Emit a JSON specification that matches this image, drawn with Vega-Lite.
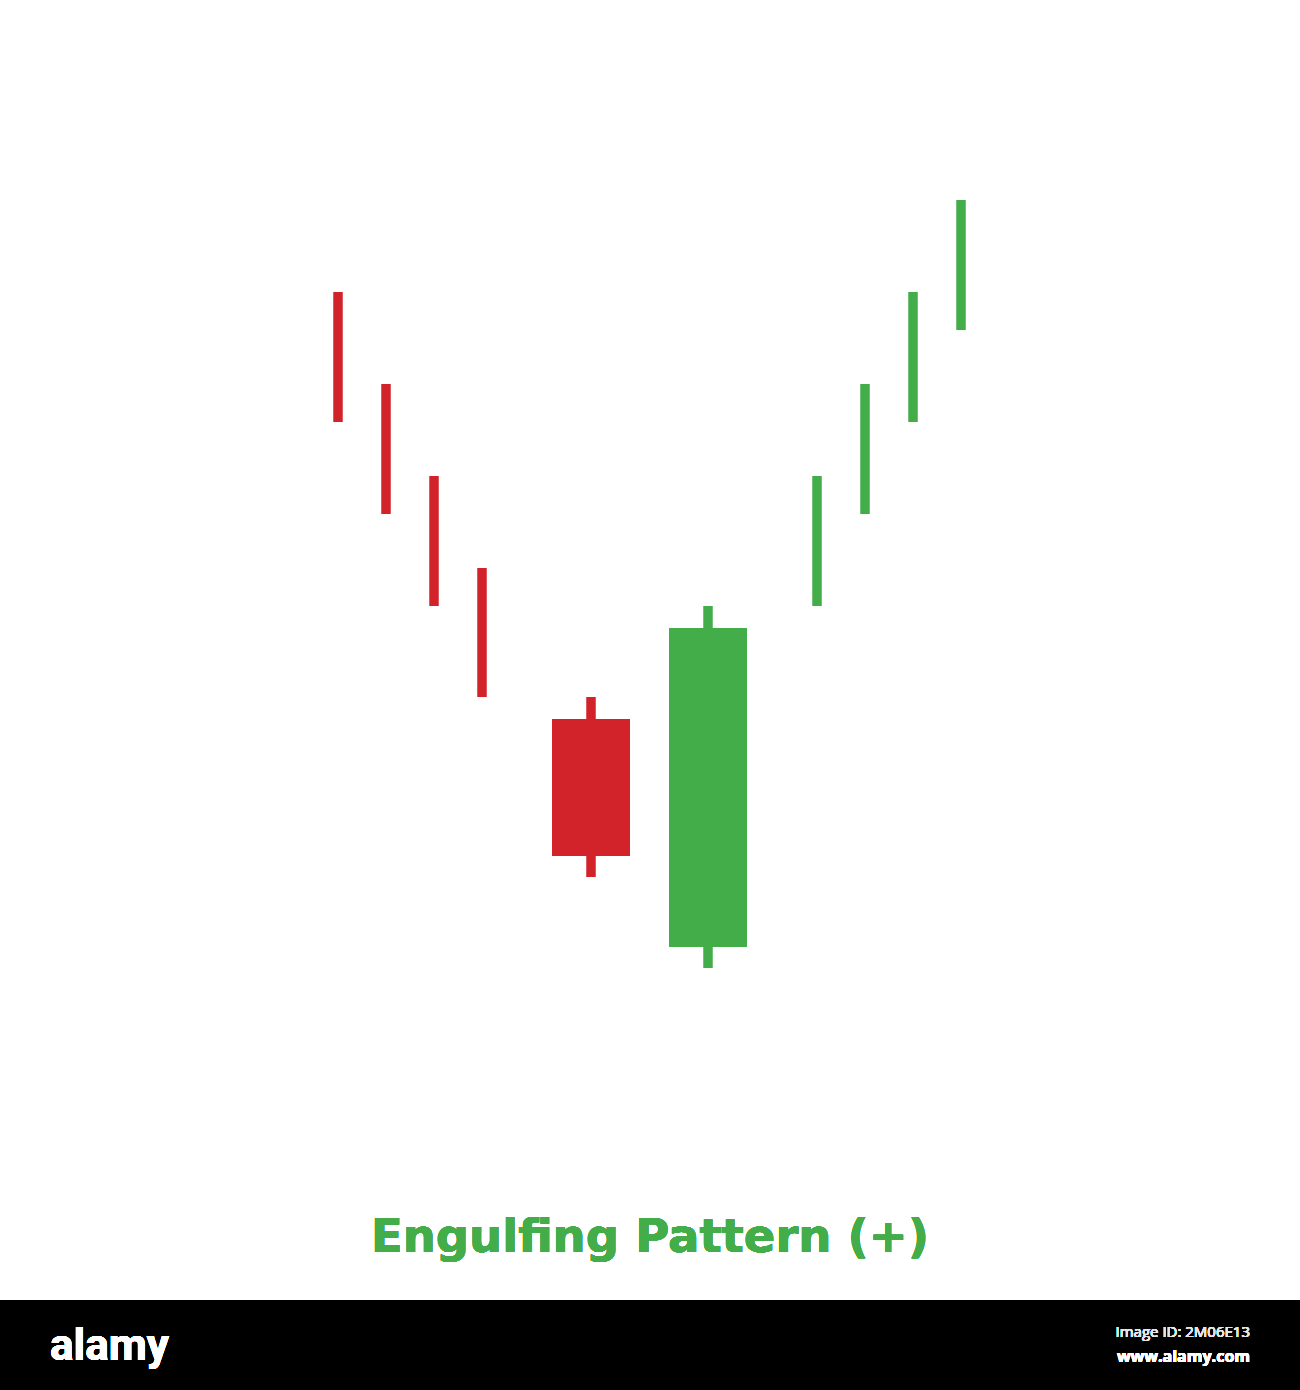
{
  "$schema": "https://vega.github.io/schema/vega-lite/v6.json",
  "width": 1300,
  "height": 1390,
  "autosize": {"type": "fit", "contains": "padding"},
  "padding": 0,
  "background": "#ffffff",
  "config": {"view": {"stroke": null}},
  "data": {
    "values": [
      {"pos": 338, "open": 1098, "high": 1098, "low": 968, "close": 968},
      {"pos": 386, "open": 1006, "high": 1006, "low": 876, "close": 876},
      {"pos": 434, "open": 914, "high": 914, "low": 784, "close": 784},
      {"pos": 482, "open": 822, "high": 822, "low": 693, "close": 693},
      {"pos": 591, "open": 671, "high": 693, "low": 513, "close": 534},
      {"pos": 708, "open": 443, "high": 784, "low": 422, "close": 762},
      {"pos": 817, "open": 784, "high": 914, "low": 784, "close": 914},
      {"pos": 865, "open": 876, "high": 1006, "low": 876, "close": 1006},
      {"pos": 913, "open": 968, "high": 1098, "low": 968, "close": 1098},
      {"pos": 961, "open": 1060, "high": 1190, "low": 1060, "close": 1190}
    ]
  },
  "layer": [
    {
      "mark": {"type": "rule", "strokeWidth": 9.5},
      "encoding": {
        "x": {"field": "pos", "type": "quantitative", "scale": {"domain": [0, 1300], "nice": false, "zero": false, "padding": 0}, "axis": null},
        "y": {"field": "low", "type": "quantitative", "scale": {"domain": [0, 1390], "nice": false, "zero": false, "padding": 0}, "axis": null},
        "y2": {"field": "high"},
        "color": {"condition": {"test": "datum.close < datum.open", "value": "#D2232A"}, "value": "#43AD4A"}
      }
    },
    {
      "transform": [{"filter": "abs(datum.close - datum.open) < datum.high - datum.low"}],
      "mark": {"type": "bar", "width": 78},
      "encoding": {
        "x": {"field": "pos", "type": "quantitative"},
        "y": {"field": "open", "type": "quantitative"},
        "y2": {"field": "close"},
        "color": {"condition": {"test": "datum.close < datum.open", "value": "#D2232A"}, "value": "#43AD4A"}
      }
    },
    {
      "mark": {"type": "text", "text": "Engulfing Pattern (+)", "font": "DejaVu Sans", "fontWeight": "bold", "fontSize": 46.5, "fill": "#43AD4A", "align": "center", "baseline": "alphabetic"},
      "encoding": {"x": {"datum": 650}, "y": {"datum": 138}}
    },
    {
      "mark": {"type": "rect", "fill": "#000000"},
      "encoding": {"x": {"datum": 0}, "x2": {"datum": 1300}, "y": {"datum": 0}, "y2": {"datum": 90}}
    },
    {
      "mark": {"type": "text", "text": "alamy", "font": "Roboto", "fontWeight": "bold", "fontSize": 44, "letterSpacing": -3, "fill": "#ffffff", "align": "left", "baseline": "alphabetic"},
      "encoding": {"x": {"datum": 50}, "y": {"datum": 30}}
    },
    {
      "mark": {"type": "text", "text": "Image ID: 2M06E13", "font": "Open Sans", "fontSize": 15, "fill": "#e6e6e6", "align": "right", "baseline": "alphabetic"},
      "encoding": {"x": {"datum": 1250}, "y": {"datum": 53}}
    },
    {
      "mark": {"type": "text", "text": "www.alamy.com", "font": "Open Sans", "fontWeight": "bold", "fontSize": 16, "fill": "#ffffff", "align": "right", "baseline": "alphabetic"},
      "encoding": {"x": {"datum": 1250}, "y": {"datum": 28}}
    }
  ]
}
